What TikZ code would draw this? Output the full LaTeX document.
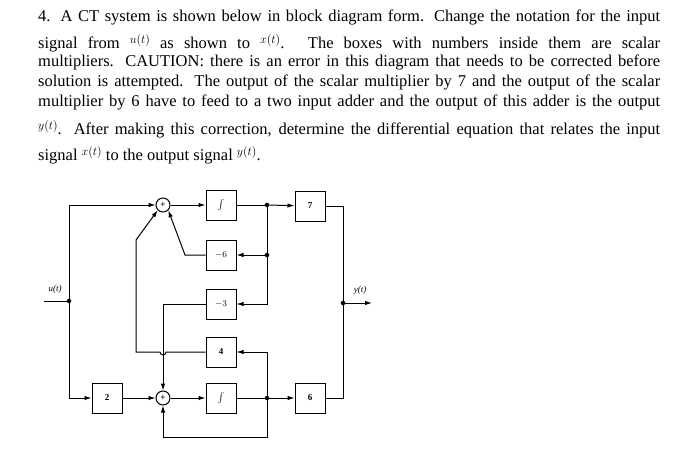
\documentclass[tikz,border=0pt]{standalone}
\usepackage{fontspec}
\setmainfont{Liberation Serif}
\usetikzlibrary{arrows.meta}
\newcommand{\rmath}[1]{\raisebox{5pt}{\fontsize{13}{14}\selectfont$#1$}}
\begin{document}
\begin{tikzpicture}[x=1pt,y=-1pt,
  blk/.style={draw,line width=1pt,minimum width=30pt,minimum height=30pt,inner sep=0pt,font=\bfseries\fontsize{9}{10}\selectfont},
  sm/.style={draw,circle,line width=1pt,minimum size=14pt,inner sep=0pt,font=\bfseries\fontsize{9}{10}\selectfont},
  ln/.style={line width=1pt},
  ar/.style={line width=1pt,-{Latex[length=7pt,width=4.5pt]}},
  dot/.style={circle,fill,inner sep=1.6pt},
  tl/.style={anchor=west,inner sep=0pt,font=\fontsize{16.5}{18}\selectfont}]
\useasboundingbox (0,0) rectangle (700,449);
\node[tl] (l1) at (38,17) {\makebox[622pt][s]{4. A CT system is shown below in block diagram form. Change the notation for the input}};
\node[tl] (l2) at (38,43) {\makebox[622pt][s]{signal from \rmath{u(t)} as shown to \rmath{x(t)}. The boxes with numbers inside them are scalar}};
\node[tl] (l3) at (38,62) {\makebox[622pt][s]{multipliers. CAUTION: there is an error in this diagram that needs to be corrected before}};
\node[tl] (l4) at (38,82) {\makebox[622pt][s]{solution is attempted. The output of the scalar multiplier by 7 and the output of the scalar}};
\node[tl] (l5) at (38,102) {\makebox[622pt][s]{multiplier by 6 have to feed to a two input adder and the output of this adder is the output}};
\node[tl] (l6) at (38,129) {\makebox[622pt][s]{\rmath{y(t)}. After making this correction, determine the differential equation that relates the input}};
\node[tl] (l7) at (38,155) {signal \rmath{x(t)} to the output signal \rmath{y(t)}.};
% nodes
\node[sm] (s1) at (163,205) {+};
\node[sm] (s2) at (163,398) {+};
\node[blk] (i1) at (221,205) {\large$\int$};
\node[blk] (i2) at (221,398) {\large$\int$};
\node[blk] (m7) at (310,206) {7};
\node[blk] (m6) at (310,398) {6};
\node[blk] (mm6) at (221,255) {$-6$};
\node[blk] (mm3) at (221,304) {$-3$};
\node[blk] (m4) at (221,352) {4};
\node[blk] (m2) at (107,398) {2};
\node[dot] (du) at (69,301) {};
\node[dot] (b1) at (267,205) {};
\node[dot] (b1b) at (267,255) {};
\node[dot] (b2) at (267,398) {};
\node[dot] (dy) at (343,303) {};
\coordinate (uin) at (44,301);
\coordinate (yout) at (372,303);
\node[font=\fontsize{9}{10}\selectfont\itshape,anchor=south] (ul) at (55,297) {u(t)};
\node[font=\fontsize{9}{10}\selectfont\itshape,anchor=south] (yl) at (360,298) {y(t)};
% connectors
\draw[ln] (uin) -- (du);
\draw[ar] (du) |- (s1);
\draw[ar] (du) |- (m2);
\draw[ar] (m2) -- (s2);
\draw[ar] (s1) -- (i1);
\draw[ar] (s2) -- (i2);
\draw[ln] (i1) -- (b1);
\draw[ar] (b1) -- (m7);
\draw[ln] (i2) -- (b2);
\draw[ar] (b2) -- (m6);
\draw[ln] (b1) -- (b1b);
\draw[ar] (b1b) -- (mm6);
\draw[ar] (b1b) |- (mm3);
\draw[ar] (mm6.west) -- (185,255) -- (s1.south east);
\draw[ar] (mm3.west) -- (163,304) -- (s2.north);
\draw[ar] (b2) |- (m4);
\draw[ar] (m4.west) -- (166,352) arc (0:180:3) -- (136,352) -- (136,240) -- (s1.south west);
\draw[ar] (b2) -- (267,437) -| (s2.south);
\draw[ln] (m7.east) -| (dy);
\draw[ln] (m6.east) -| (dy);
\draw[ar] (dy) -- (yout);
\end{tikzpicture}
\end{document}
